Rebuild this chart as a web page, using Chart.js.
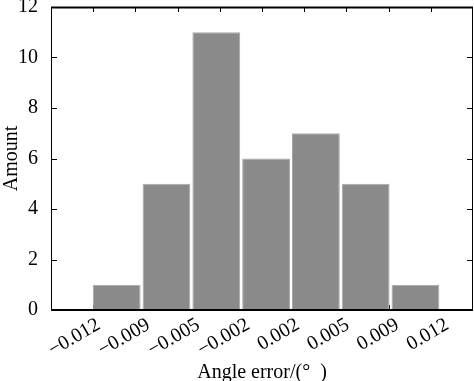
<!DOCTYPE html>
<html>
<head>
<meta charset="utf-8">
<script src="https://cdn.jsdelivr.net/npm/chart.js@4/dist/chart.umd.min.js"></script>
<style>
  html, body { margin: 0; padding: 0; background: #fff; }
  #wrap { width: 474px; height: 381px; }
</style>
</head>
<body>
<div id="wrap"><canvas id="histChart" width="474" height="381"></canvas></div>
<script>
// histogram data
const binEdges = [-0.0121, -0.00856, -0.00502, -0.00148, 0.00206, 0.0056, 0.00914, 0.01268];
const counts = [1, 5, 11, 6, 7, 5, 1];
const edgeLabels = ['\u22120.012', '\u22120.009', '\u22120.005', '\u22120.002', '0.002', '0.005', '0.009', '0.012'];
const frameTicksX = [-0.012, -0.009, -0.006, -0.003, 0, 0.003, 0.006, 0.009, 0.012];
const yTicks = [0, 2, 4, 6, 8, 10, 12];

const barPoints = counts.map((c, i) => ({ x: (binEdges[i] + binEdges[i + 1]) / 2, y: c }));
const font = { family: 'Liberation Serif', size: 20 };

// box around the plot with inward ticks, like the original figure
const frame = {
  id: 'frame',
  beforeDatasetsDraw(chart) {
    const { ctx, chartArea: a, scales: { x, y } } = chart;
    ctx.save();
    ctx.strokeStyle = '#000';
    ctx.lineWidth = 1;
    ctx.beginPath();
    frameTicksX.forEach(v => {
      const px = Math.round(x.getPixelForValue(v)) + 0.5;
      ctx.moveTo(px, a.top); ctx.lineTo(px, a.top + 5);
      ctx.moveTo(px, a.bottom); ctx.lineTo(px, a.bottom - 5);
    });
    yTicks.forEach(v => {
      const py = Math.round(y.getPixelForValue(v)) + 0.5;
      ctx.moveTo(a.left, py); ctx.lineTo(a.left + 6, py);
      ctx.moveTo(a.right, py); ctx.lineTo(a.right - 6, py);
    });
    ctx.stroke();
    ctx.restore();
  },
  afterDatasetsDraw(chart) {
    const { ctx, chartArea: a } = chart;
    ctx.save();
    ctx.lineWidth = 1;
    ctx.strokeStyle = '#000';
    ctx.strokeRect(Math.round(a.left) + 0.5, Math.round(a.top) + 0.5,
      Math.round(a.right - a.left) - 1, Math.round(a.bottom - a.top));
    ctx.lineWidth = 2;
    ctx.beginPath();
    ctx.moveTo(a.left, a.top + 0.5); ctx.lineTo(a.right, a.top + 0.5);
    ctx.moveTo(a.left, a.bottom); ctx.lineTo(a.right, a.bottom);
    ctx.stroke();
    ctx.restore();
  }
};

new Chart(document.getElementById('histChart'), {
  type: 'bar',
  data: {
    datasets: [{
      data: barPoints,
      backgroundColor: '#8a8a8a',
      borderColor: '#a8a8a8',
      borderWidth: 1,
      borderSkipped: 'start',
      barPercentage: 0.96,
      categoryPercentage: 1
    }]
  },
  options: {
    responsive: false,
    animation: false,
    layout: { padding: { top: 0, right: 1, left: 0, bottom: 0 } },
    plugins: { legend: { display: false }, tooltip: { enabled: false } },
    scales: {
      x: {
        type: 'linear',
        min: -0.015,
        max: 0.015,
        offset: false,
        grid: { display: false, offset: false },
        border: { display: false },
        afterBuildTicks: s => { s.ticks = binEdges.map(v => ({ value: v })); },
        afterFit: s => { s.height = 71; },
        ticks: {
          autoSkip: false,
          maxRotation: 30,
          minRotation: 30,
          padding: -5,
          labelOffset: 7,
          color: '#000',
          font: font,
          callback: (v, i) => edgeLabels[i]
        },
        title: { display: true, text: 'Angle error/(\u00b0  )', color: '#000', font: font, padding: { top: 0, bottom: -4 } }
      },
      y: {
        min: 0,
        max: 12,
        grid: { display: false },
        border: { display: false },
        afterFit: s => { s.width = 51; s.paddingTop = 7; s.paddingBottom = 0; },
        ticks: { stepSize: 2, color: '#000', font: font, padding: 5 },
        title: { display: true, text: 'Amount', color: '#000', font: font, padding: { top: 0, bottom: 0 } }
      }
    }
  },
  plugins: [frame]
});
</script>
</body>
</html>
